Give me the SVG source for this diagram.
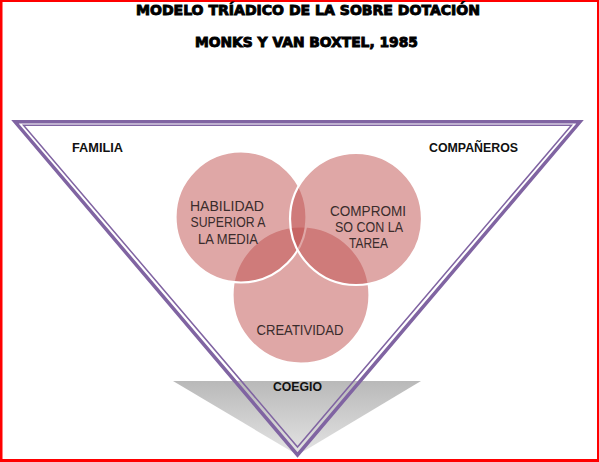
<svg xmlns="http://www.w3.org/2000/svg" width="599" height="462" viewBox="0 0 599 462">
<defs>
<linearGradient id="shadowGrad" x1="0" y1="0" x2="0" y2="1">
<stop offset="0" stop-color="#b9b9b9"/>
<stop offset="1" stop-color="#e4e4e4"/>
</linearGradient>
<style>
.title{font-family:"DejaVu Sans","Liberation Sans",sans-serif;font-weight:900;font-size:13.5px;fill:#000;stroke:#000;stroke-width:0.9px}
.lbl{font-family:"Liberation Sans","Open Sans",sans-serif;font-weight:bold;font-size:12px;fill:#111}
.ctext{font-family:"Liberation Sans","Open Sans",sans-serif;font-size:14.5px;fill:#3a2c2c;text-anchor:middle}
.circ{fill:#c0504d;fill-opacity:0.5;stroke:#ffffff;stroke-width:2.2}
.tri{fill:none;stroke:#8064a2;stroke-linejoin:miter}
</style>
</defs>
<rect x="0" y="0" width="599" height="462" fill="#ffffff"/>
<g id="frame" fill="#ff0000">
<rect x="0" y="0" width="599" height="2"/>
<rect x="0" y="0" width="2.5" height="462"/>
<rect x="597" y="0" width="2" height="462"/>
<rect x="0" y="459" width="599" height="3"/>
</g>
<g id="title">
<text class="title" x="136" y="15" textLength="344" lengthAdjust="spacingAndGlyphs">MODELO TRÍADICO DE LA SOBRE DOTACIÓN</text>
<text class="title" x="195" y="47" textLength="223" lengthAdjust="spacingAndGlyphs">MONKS Y VAN BOXTEL, 1985</text>
</g>
<g id="shadow">
<polygon points="173,381 421,381 297.5,455" fill="url(#shadowGrad)"/>
</g>
<g id="triangle">
<polygon class="tri" points="15,121.8 580,121.8 297.5,455" stroke-width="3.5"/>
<polygon class="tri" points="23.5,125.2 571.5,125.2 297.5,447" stroke-width="1.5"/>
</g>
<g id="labels">
<text class="lbl" x="72" y="152" textLength="51" lengthAdjust="spacingAndGlyphs">FAMILIA</text>
<text class="lbl" x="429" y="152" textLength="89" lengthAdjust="spacingAndGlyphs">COMPAÑEROS</text>
<text class="lbl" x="273" y="391" textLength="49" lengthAdjust="spacingAndGlyphs">COEGIO</text>
</g>
<g id="creatividad">
<circle class="circ" cx="301" cy="295" r="68.5"/>
</g>
<g id="habilidad">
<circle class="circ" cx="241" cy="217" r="65.5"/>
</g>
<g id="compromiso">
<circle class="circ" cx="356" cy="219" r="66"/>
</g>
<g id="circle-texts">
<text class="ctext" x="227" y="210.5" textLength="74" lengthAdjust="spacingAndGlyphs">HABILIDAD</text>
<text class="ctext" x="228" y="227" textLength="75" lengthAdjust="spacingAndGlyphs">SUPERIOR A</text>
<text class="ctext" x="228" y="243.5" textLength="60" lengthAdjust="spacingAndGlyphs">LA MEDIA</text>
<text class="ctext" x="368" y="215.5" textLength="76" lengthAdjust="spacingAndGlyphs">COMPROMI</text>
<text class="ctext" x="369" y="231.5" textLength="68" lengthAdjust="spacingAndGlyphs">SO CON LA</text>
<text class="ctext" x="368.5" y="247.5" textLength="39" lengthAdjust="spacingAndGlyphs">TAREA</text>
<text class="ctext" x="300" y="335" textLength="87" lengthAdjust="spacingAndGlyphs">CREATIVIDAD</text>
</g>
</svg>
